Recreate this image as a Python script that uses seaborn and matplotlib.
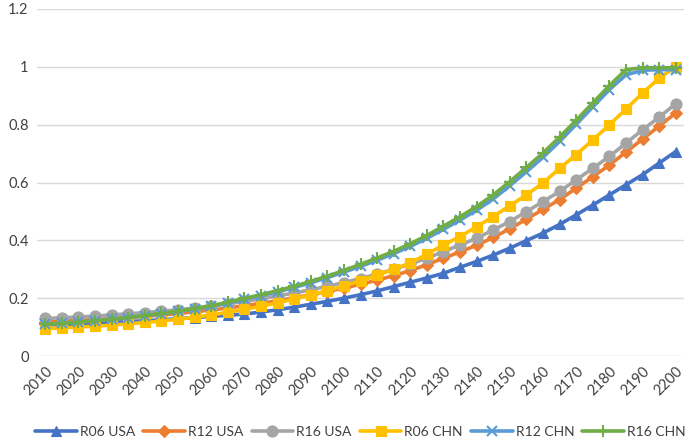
import matplotlib
matplotlib.use("Agg")
import matplotlib.pyplot as plt
import seaborn as sns
import numpy as np
import pandas as pd

years = list(range(2010, 2201, 5))

r06_usa = [0.107, 0.109, 0.111, 0.113, 0.116, 0.119, 0.122, 0.125, 0.129, 0.133,
           0.137, 0.141, 0.145, 0.152, 0.160, 0.169, 0.179, 0.189, 0.200, 0.212,
           0.225, 0.240, 0.255, 0.270, 0.286, 0.307, 0.327, 0.349, 0.373, 0.399,
           0.425, 0.455, 0.488, 0.522, 0.557, 0.592, 0.627, 0.667, 0.707]
r12_usa = [0.118, 0.120, 0.123, 0.126, 0.129, 0.133, 0.137, 0.142, 0.147, 0.153,
           0.159, 0.166, 0.174, 0.182, 0.191, 0.201, 0.212, 0.223, 0.235, 0.248,
           0.262, 0.278, 0.295, 0.316, 0.338, 0.360, 0.383, 0.410, 0.440, 0.473,
           0.507, 0.541, 0.580, 0.620, 0.660, 0.705, 0.750, 0.795, 0.840]
r16_usa = [0.130, 0.132, 0.135, 0.138, 0.142, 0.146, 0.150, 0.155, 0.160, 0.166,
           0.173, 0.181, 0.189, 0.198, 0.208, 0.218, 0.229, 0.241, 0.254, 0.268,
           0.283, 0.300, 0.318, 0.338, 0.361, 0.384, 0.407, 0.436, 0.465, 0.499,
           0.534, 0.569, 0.609, 0.649, 0.690, 0.736, 0.782, 0.826, 0.872]
r06_chn = [0.095, 0.097, 0.100, 0.103, 0.107, 0.111, 0.116, 0.121, 0.127, 0.134,
           0.142, 0.151, 0.161, 0.172, 0.184, 0.197, 0.211, 0.226, 0.242, 0.260,
           0.279, 0.300, 0.322, 0.352, 0.384, 0.413, 0.447, 0.482, 0.520, 0.557,
           0.598, 0.649, 0.696, 0.747, 0.799, 0.854, 0.909, 0.961, 1.000]
r12_chn = [0.110, 0.113, 0.117, 0.122, 0.127, 0.133, 0.139, 0.146, 0.154, 0.162,
           0.172, 0.183, 0.196, 0.209, 0.222, 0.237, 0.253, 0.271, 0.290, 0.310,
           0.331, 0.354, 0.379, 0.407, 0.438, 0.470, 0.504, 0.543, 0.589, 0.637,
           0.687, 0.742, 0.801, 0.861, 0.921, 0.972, 0.988, 0.990, 0.990]
r16_chn = [0.110, 0.113, 0.117, 0.122, 0.127, 0.133, 0.140, 0.147, 0.155, 0.164,
           0.174, 0.186, 0.199, 0.212, 0.226, 0.241, 0.258, 0.276, 0.296, 0.317,
           0.339, 0.362, 0.388, 0.417, 0.449, 0.482, 0.517, 0.557, 0.603, 0.652,
           0.702, 0.757, 0.815, 0.875, 0.935, 0.990, 0.997, 0.997, 0.997]

series_names = ["R06 USA", "R12 USA", "R16 USA", "R06 CHN", "R12 CHN", "R16 CHN"]
series_values = [r06_usa, r12_usa, r16_usa, r06_chn, r12_chn, r16_chn]
colors = ["#4472C4", "#ED7D31", "#A5A5A5", "#FFC000", "#5B9BD5", "#70AD47"]
markers = ["^", "D", "o", "s", "x", "+"]
msizes = [7, 6, 8, 7, 7, 8]

x_ticks = list(range(2010, 2201, 10))
y_ticks = [0, 0.2, 0.4, 0.6, 0.8, 1.0, 1.2]
y_labels = ["0", "0.2", "0.4", "0.6", "0.8", "1", "1.2"]

sns.set_theme(style="white")
plt.rcParams["font.family"] = ["Lato", "DejaVu Sans"]

fig = plt.figure(figsize=(6.85, 4.46), dpi=100)
ax = fig.add_axes([37 / 685, 1 - 356 / 446, (684 - 37) / 685, (356 - 9) / 446])

rows = []
for name, vals in zip(series_names, series_values):
    for yr, v in zip(years, vals):
        rows.append({"year": yr, "value": v, "series": name})
df = pd.DataFrame(rows)

for name, col, mk, ms in zip(series_names, colors, markers, msizes):
    sub = df[df["series"] == name]
    sns.lineplot(data=sub, x="year", y="value", ax=ax, color=col, linewidth=2.6,
                 marker=mk, markersize=ms, markeredgecolor=col,
                 markeredgewidth=1.5 if mk in ("x", "+") else 0.8,
                 label=name, zorder=3)

ax.set_xlim(2007.5, 2202.5)
ax.set_ylim(0, 1.2)
ax.set_yticks(y_ticks)
ax.set_yticklabels(y_labels, fontsize=10.5, color="#404040")
ax.set_xticks(x_ticks)
ax.set_xticklabels([str(t) for t in x_ticks], rotation=45, ha="right",
                   rotation_mode="anchor", fontsize=10.5, color="#404040")
ax.tick_params(axis="both", length=0, pad=6)
ax.grid(axis="y", color="#D9D9D9", linewidth=1.0, zorder=0)
ax.grid(axis="x", visible=False)
for s in ax.spines.values():
    s.set_visible(False)
ax.set_xlabel("")
ax.set_ylabel("")

ax.legend(loc="center", bbox_to_anchor=(0.5, -0.219), ncol=6, frameon=False,
          fontsize=10, handlelength=3.0, handletextpad=0.2, columnspacing=0.6,
          labelcolor="#404040", borderaxespad=0, borderpad=0)

fig.savefig("out.png", dpi=100)
